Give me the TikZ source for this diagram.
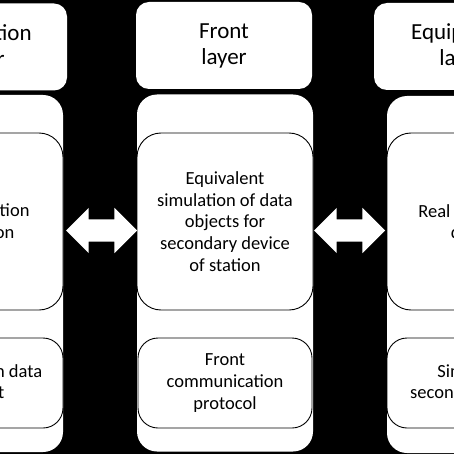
\documentclass[tikz,border=0pt]{standalone}
\usepackage{fontspec}
\setmainfont{Carlito}
\usetikzlibrary{shapes.arrows}

\begin{document}
\begin{tikzpicture}[x=1pt, y=-1pt,
    layerbox/.style={fill=white, rounded corners=13pt, minimum width=176pt,
      minimum height=87pt, inner sep=0pt, align=center,
      font=\fontsize{23}{26}\selectfont},
    colbox/.style={fill=white, rounded corners=20pt, minimum width=176pt,
      minimum height=357pt, inner sep=0pt},
    partbox/.style={draw=black, line width=0.9pt, fill=white, rounded corners=24pt,
      minimum width=176pt, inner sep=0pt, align=center,
      font=\fontsize{18.5}{21.7}\selectfont},
    linkarrow/.style={double arrow, fill=white, minimum width=45pt,
      double arrow head extend=11.5pt, minimum height=71pt,
      inner xsep=0pt, inner ysep=11pt}]

    \fill[black] (0,0) rectangle (454,454);
    \clip (0,0) rectangle (454,454);

    % left column
    \node[layerbox, minimum width=170pt] (simhead) at (-18,47) {Simulation\\layer};
    \node[colbox] (simcol) at (-25,273.5) {};
    \node[partbox, minimum height=177pt] (mastersim) at (-25,221.5) {Master station\\simulation};
    \node[partbox, minimum height=90pt, rounded corners=20pt] (simdata) at (-25,383) {Transmission data\\support};

    % middle column
    \node[layerbox] (fronthead) at (224,45.5) {Front\\layer};
    \node[colbox] (frontcol) at (225,273) {};
    \node[partbox, minimum height=177pt] (frontsim) at (225,221.5)
      {Equivalent\\simulation of data\\objects for\\secondary device\\of station};
    \node[partbox, minimum height=90pt, minimum width=174pt, rounded corners=20pt] (frontproto) at (225,383)
      {Front\\communication\\protocol};

    % right column
    \node[layerbox] (devhead) at (462,46.5) {Equipment\\layer};
    \node[colbox] (devcol) at (475,274.5) {};
    \node[partbox, minimum height=177pt] (realdev) at (475,221.5) {Real secondary\\device};
    \node[partbox, minimum height=90pt, rounded corners=20pt] (simdev) at (475,383) {Simulated\\secondary device};

    % links between layers
    \node[linkarrow] (leftlink) at (101.5,230.5) {};
    \node[linkarrow] (rightlink) at (349.5,230.5) {};

\end{tikzpicture}
\end{document}
